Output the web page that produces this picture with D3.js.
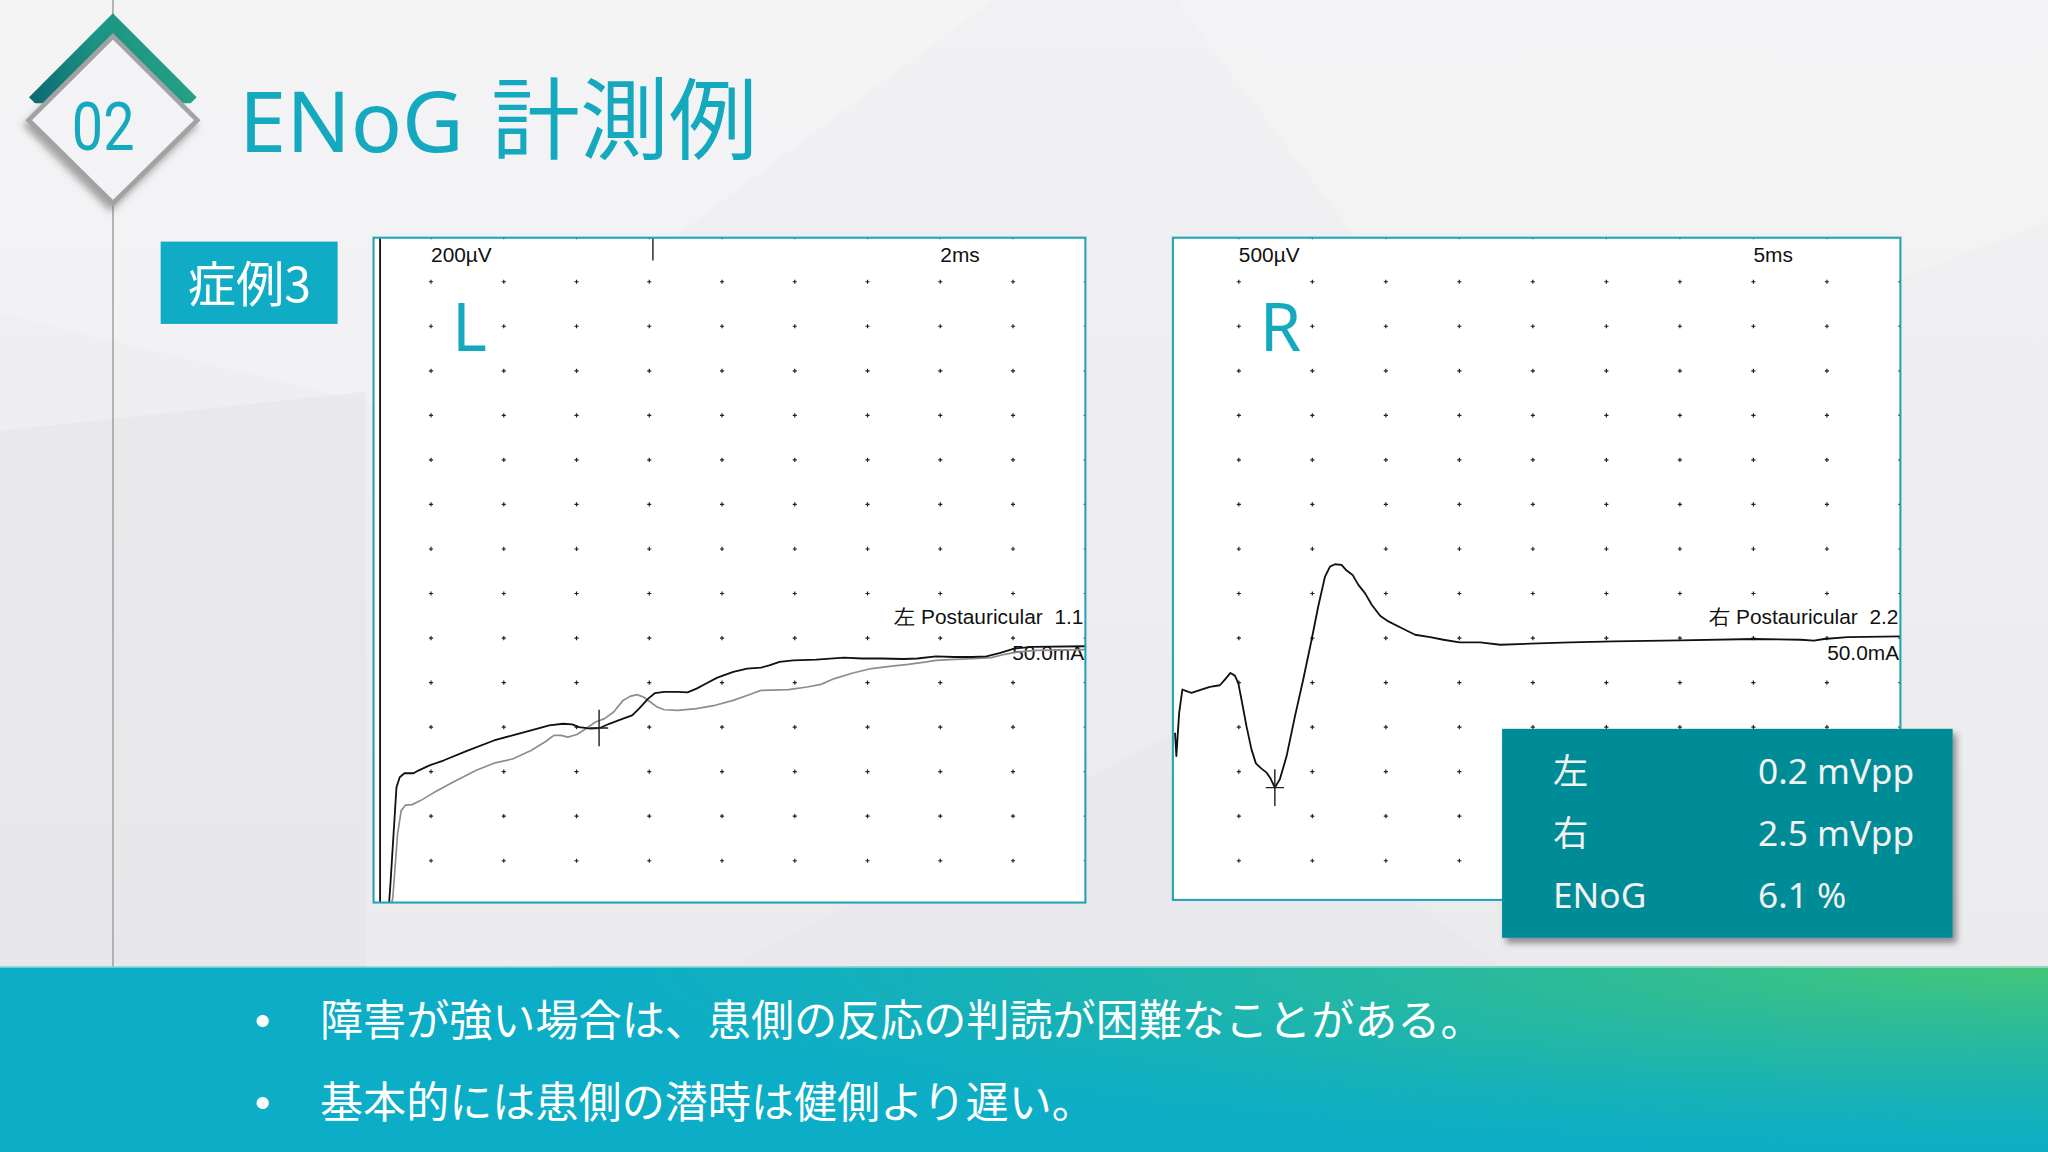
<!DOCTYPE html>
<html>
<head>
<meta charset="utf-8">
<title>ENoG 計測例</title>
<script src="https://d3js.org/d3.v7.min.js"></script>
<style>
  html, body { margin: 0; padding: 0; background: #ededf0; overflow: hidden; }
  svg { display: block; }
</style>
</head>
<body>
<div id="slide"></div>
<script>
"use strict";

// ---- data ----
// left side (患側), 2ms/div, 200uV/div : [ms, uV]
var leftTraceA = [
  [0.60, 2400], [0.60, -1200], [0.76, -1200], [0.89, -890], [1.05, -470], [1.14, -425],
  [1.27, -407], [1.52, -407], [1.65, -395], [1.96, -372], [2.34, -350], [2.97, -308],
  [3.73, -260], [4.24, -237], [4.75, -215], [5.25, -192], [5.63, -185], [5.88, -188],
  [6.07, -200], [6.39, -207], [6.64, -204], [6.90, -185], [7.28, -162], [7.53, -147],
  [7.72, -117], [7.97, -72], [8.16, -47], [8.41, -42], [8.79, -42], [9.05, -44],
  [9.30, -27], [9.55, -5], [9.87, 22], [10.31, 48], [10.69, 63], [11.07, 67],
  [11.32, 78], [11.58, 93], [11.96, 100], [12.59, 103], [13.35, 112], [13.85, 108],
  [14.36, 108], [14.99, 106], [15.37, 108], [15.88, 118], [16.38, 115], [16.89, 115],
  [17.27, 118], [17.65, 133], [18.03, 153], [18.53, 160], [20.00, 163]
];
var leftTraceB = [
  [0.70, -1200], [0.95, -965], [1.08, -680], [1.18, -575], [1.30, -550], [1.48, -548],
  [1.71, -530], [2.09, -493], [2.60, -448], [3.23, -395], [3.73, -362], [4.24, -343],
  [4.75, -305], [5.13, -267], [5.38, -237], [5.57, -237], [5.76, -245], [6.01, -233],
  [6.26, -207], [6.52, -177], [6.77, -162], [7.02, -132], [7.28, -80], [7.47, -62],
  [7.66, -54], [7.84, -65], [8.03, -87], [8.22, -110], [8.41, -122], [8.79, -125],
  [9.30, -117], [9.81, -102], [10.31, -80], [10.82, -50], [11.07, -35], [11.83, -32],
  [12.34, -20], [12.72, -8], [13.09, 18], [13.60, 43], [14.11, 63], [14.61, 73],
  [15.12, 82], [15.62, 93], [15.88, 100], [16.26, 103], [16.89, 108], [17.40, 112],
  [17.78, 127], [18.15, 138], [18.66, 145], [20.00, 148]
];
var leftCursor = [6.62, -204];
var leftMarker = 8.1;

// right side (健側), 5ms/div, 500uV/div : [ms, uV]
var rightTrace = [
  [0.66, -563], [0.75, -825], [0.94, -340], [1.16, -78], [1.44, -97], [1.78, -116],
  [2.34, -86], [3.03, -49], [3.71, -30], [4.05, 34], [4.43, 108], [4.73, 78],
  [4.96, -4], [5.18, -190], [5.52, -489], [5.86, -750], [6.16, -907], [6.54, -966],
  [6.89, -1011], [7.16, -1078], [7.45, -1179], [7.79, -1086], [8.25, -825], [8.82, -377],
  [9.38, 34], [9.95, 481], [10.40, 854], [10.86, 1190], [11.20, 1302], [11.54, 1328],
  [11.99, 1321], [12.33, 1257], [12.74, 1209], [13.13, 1097], [13.58, 1004], [14.04, 873],
  [14.61, 750], [15.17, 687], [16.20, 601], [16.99, 537], [18.01, 511], [18.92, 481],
  [20.01, 451], [21.42, 451], [22.78, 425], [24.82, 437], [27.55, 451], [30.50, 463],
  [35.04, 474], [40.04, 489], [43.22, 481], [44.12, 470], [44.81, 489], [46.40, 511],
  [50.00, 519]
];
var rightCursor = [7.45, -1179];

// grid (dot) positions
var leftTimeGrid = [2, 4, 6, 8, 10, 12, 14, 16, 18, 20];
var leftAmpGrid = [2000, 1800, 1600, 1400, 1200, 1000, 800, 600, 400, 200, 0, -200, -400, -600, -800, -1000];
var rightTimeGrid = [5, 10, 15, 20, 25, 30, 35, 40, 45, 50];
var rightAmpGrid = [5000, 4500, 4000, 3500, 3000, 2500, 2000, 1500, 1000, 500, 0, -500, -1000, -1500, -2000, -2500];

// labels
var leftLabels = ["L", "200µV", "2ms", "左 Postauricular  1.1", "50.0mA"];
var rightLabels = ["R", "500µV", "5ms", "右 Postauricular  2.2", "50.0mA"];
var resultNames = ["左", "右", "ENoG"];
var resultValues = ["0.2 mVpp", "2.5 mVpp", "6.1 %"];
var notes = [
  "障害が強い場合は、患側の反応の判読が困難なことがある。",
  "基本的には患側の潜時は健側より遅い。"
];

(function() {
  var W, H, svg, defs, g, grad, title, drawPanel;
  var TEAL = "#15a9bf";
  var MONO = "'Liberation Sans', Arial, sans-serif";
  var SANS = "'Noto Sans', 'Noto Sans CJK JP', sans-serif";
  var CJK = "'Noto Sans CJK JP', 'Noto Sans', sans-serif";

  W = 1568; H = 882;
  svg = d3.select("#slide").append("svg")
    .attr("width", 2048)
    .attr("height", 1152)
    .attr("viewBox", "0 0 " + W + " " + H);
  defs = svg.append("defs");

  // ---- defs ----
  grad = defs.append("linearGradient").attr("id", "bg").attr("x1", 0).attr("y1", 0).attr("x2", 0).attr("y2", 1);
  grad.append("stop").attr("offset", "0%").attr("stop-color", "#f1f1f3");
  grad.append("stop").attr("offset", "100%").attr("stop-color", "#eaeaed");

  grad = defs.append("linearGradient").attr("id", "roof").attr("gradientUnits", "userSpaceOnUse")
    .attr("x1", 22).attr("y1", 74).attr("x2", 150).attr("y2", 40);
  grad.append("stop").attr("offset", "0%").attr("stop-color", "#0b6a72");
  grad.append("stop").attr("offset", "45%").attr("stop-color", "#1a9484");
  grad.append("stop").attr("offset", "100%").attr("stop-color", "#25a286");

  grad = defs.append("radialGradient").attr("id", "bandGlow").attr("gradientUnits", "userSpaceOnUse")
    .attr("cx", 0).attr("cy", 0).attr("r", 1)
    .attr("gradientTransform", "translate(1568,738) scale(1150,150)");
  grad.append("stop").attr("offset", "0%").attr("stop-color", "#46c777").attr("stop-opacity", 1);
  grad.append("stop").attr("offset", "55%").attr("stop-color", "#2cbb98").attr("stop-opacity", 0.6);
  grad.append("stop").attr("offset", "100%").attr("stop-color", "#20b5ad").attr("stop-opacity", 0);

  defs.append("filter").attr("id", "shadow").attr("x", "-20%").attr("y", "-20%").attr("width", "150%").attr("height", "150%")
    .append("feDropShadow").attr("dx", 3).attr("dy", 4).attr("stdDeviation", 2.5)
    .attr("flood-color", "#000").attr("flood-opacity", 0.4);
  defs.append("filter").attr("id", "dshadow").attr("x", "-30%").attr("y", "-30%").attr("width", "160%").attr("height", "160%")
    .append("feDropShadow").attr("dx", -2).attr("dy", 4).attr("stdDeviation", 3)
    .attr("flood-color", "#555").attr("flood-opacity", 0.5);

  // ---- background ----
  svg.append("rect").attr("width", W).attr("height", H).attr("fill", "url(#bg)");
  svg.append("polygon").attr("points", "0,0 760,0 330,320 0,240").attr("fill", "#fff").attr("opacity", 0.22);
  svg.append("polygon").attr("points", "900,0 1568,0 1568,170 1150,330").attr("fill", "#fff").attr("opacity", 0.2);
  svg.append("polygon").attr("points", "0,330 280,300 280,740 0,740").attr("fill", "#e4e4e8").attr("opacity", 0.5);
  svg.append("polygon").attr("points", "560,740 900,560 1150,740").attr("fill", "#e6e6ea").attr("opacity", 0.4);

  // timeline line
  svg.append("line").attr("x1", 86.5).attr("x2", 86.5).attr("y1", 0).attr("y2", 740)
    .attr("stroke", "#9d9d9d").attr("stroke-width", 1.1);

  // ---- number badge ----
  defs.append("clipPath").attr("id", "roofClip").append("rect")
    .attr("x", 0).attr("y", 0).attr("width", 200).attr("height", 79);
  svg.append("polygon").attr("clip-path", "url(#roofClip)")
    .attr("points", "86.4,10.2 150.6,74.4 86.4,138.6 22.2,74.4")
    .attr("fill", "url(#roof)");
  svg.append("polygon")
    .attr("points", "86.5,27.8 151,92 86.5,155.5 22,92")
    .attr("fill", "#f3f3f5").attr("stroke", "#a2a2a4").attr("stroke-width", 3.6)
    .attr("filter", "url(#dshadow)");
  svg.append("text").attr("x", 79).attr("y", 115).attr("text-anchor", "middle")
    .attr("font-family", "Roboto, 'Noto Sans', sans-serif").attr("font-size", 51)
    .attr("textLength", 48).attr("lengthAdjust", "spacingAndGlyphs")
    .attr("fill", TEAL).text("02");

  // ---- title ----
  title = svg.append("text").attr("x", 183).attr("y", 116)
    .attr("font-family", SANS).attr("fill", TEAL);
  title.append("tspan").attr("font-size", 65).text("ENoG ");
  title.append("tspan").attr("font-family", CJK).attr("font-size", 68).attr("dx", 4).text("計測例");

  // case label
  svg.append("rect").attr("x", 123).attr("y", 185).attr("width", 135.5).attr("height", 63).attr("fill", "#10abc4");
  svg.append("text").attr("x", 191).attr("y", 231).attr("text-anchor", "middle")
    .attr("font-family", CJK).attr("font-size", 37).attr("fill", "#fff").text("症例3");

  // ---- panels ----
  drawPanel = function(cfg) {
    var p, x, y, line, id, box, dots, tg;
    box = cfg.box;
    x = cfg.x; y = cfg.y;
    id = "clip" + cfg.name;
    p = svg.append("g").attr("class", "panel-" + cfg.name);

    defs.append("clipPath").attr("id", id).append("rect")
      .attr("x", box.x).attr("y", box.y).attr("width", box.w).attr("height", box.h);

    p.append("rect").attr("x", box.x).attr("y", box.y).attr("width", box.w).attr("height", box.h)
      .attr("fill", "#fff");

    // dot grid
    dots = [];
    cfg.timeGrid.forEach(function(t) {
      cfg.ampGrid.forEach(function(v) { dots.push([t, v]); });
    });
    p.append("g").attr("clip-path", "url(#" + id + ")")
      .selectAll("path.dot")
      .data(dots)
      .enter()
      .append("path")
      .attr("class", "dot")
      .attr("d", function(d) {
        var cx = x(d[0]), cy = y(d[1]);
        return "M" + (cx - 1.6) + "," + cy + "h3.2M" + cx + "," + (cy - 1.6) + "v3.2";
      })
      .attr("stroke", "#222").attr("stroke-width", 0.9);

    // labels
    p.append("text").attr("x", x(cfg.timeGrid[0]) + 16).attr("y", 269)
      .attr("font-family", "'Noto Sans', sans-serif").attr("font-size", 51).attr("fill", TEAL)
      .text(cfg.labels[0]);
    p.append("text").attr("x", x(cfg.timeGrid[0])).attr("y", 200.5)
      .attr("font-family", MONO).attr("font-size", 16).attr("fill", "#111").text(cfg.labels[1]);
    p.append("text").attr("x", x(cfg.timeGrid[7])).attr("y", 200.5)
      .attr("font-family", MONO).attr("font-size", 16).attr("fill", "#111").text(cfg.labels[2]);
    p.append("text").attr("x", box.x + box.w - 1.5).attr("y", 477.5).attr("text-anchor", "end")
      .attr("font-family", MONO).attr("font-size", 16).attr("fill", "#111")
      .style("white-space", "pre").text(cfg.labels[3]);
    p.append("text").attr("x", box.x + box.w - 1).attr("y", 505.5).attr("text-anchor", "end")
      .attr("font-family", MONO).attr("font-size", 16).attr("fill", "#111").text(cfg.labels[4]);

    // traces
    line = d3.line()
      .x(function(d) { return x(d[0]); })
      .y(function(d) { return y(d[1]); });
    tg = p.append("g").attr("clip-path", "url(#" + id + ")");
    cfg.traces.forEach(function(tr) {
      tg.append("path").datum(tr.data)
        .attr("d", line)
        .attr("fill", "none")
        .attr("stroke", tr.color)
        .attr("stroke-width", tr.width)
        .attr("stroke-linejoin", "round");
    });

    // cursor
    tg.append("path")
      .attr("d", "M" + (x(cfg.cursor[0]) - 7) + "," + y(cfg.cursor[1]) + "h14" +
                 "M" + x(cfg.cursor[0]) + "," + (y(cfg.cursor[1]) - 14) + "v28")
      .attr("stroke", "#222").attr("stroke-width", 1.1).attr("fill", "none");

    if (cfg.marker !== undefined) {
      tg.append("line")
        .attr("x1", x(cfg.marker)).attr("x2", x(cfg.marker))
        .attr("y1", box.y).attr("y2", box.y + 17.5)
        .attr("stroke", "#222").attr("stroke-width", 1.1);
    }

    // border
    p.append("rect").attr("x", box.x).attr("y", box.y).attr("width", box.w).attr("height", box.h)
      .attr("fill", "none").attr("stroke", "#25a3b5").attr("stroke-width", 1.6);
  };

  drawPanel({
    name: "L",
    box: {x: 286, y: 182, w: 545, h: 509},
    x: d3.scaleLinear().domain([0, 20]).range([274.3, 831.3]),
    y: d3.scaleLinear().domain([-1000, 2000]).range([693.1, 181.6]),
    timeGrid: leftTimeGrid,
    ampGrid: leftAmpGrid,
    labels: leftLabels,
    traces: [
      {data: leftTraceB, color: "#8d8d8d", width: 1.3},
      {data: leftTraceA, color: "#111", width: 1.4}
    ],
    cursor: leftCursor,
    marker: leftMarker
  });

  drawPanel({
    name: "R",
    box: {x: 898, y: 182, w: 557, h: 507},
    x: d3.scaleLinear().domain([0, 50]).range([892.2, 1455]),
    y: d3.scaleLinear().domain([-2500, 5000]).range([693.1, 181.6]),
    timeGrid: rightTimeGrid,
    ampGrid: rightAmpGrid,
    labels: rightLabels,
    traces: [
      {data: rightTrace, color: "#111", width: 1.4}
    ],
    cursor: rightCursor
  });

  // ---- result box ----
  g = svg.append("g");
  g.append("rect").attr("x", 1150).attr("y", 558).attr("width", 345).attr("height", 160)
    .attr("fill", "#038c97").attr("filter", "url(#shadow)");
  g.selectAll("text.name")
    .data(resultNames)
    .enter()
    .append("text")
    .attr("class", "name")
    .attr("x", 1189)
    .attr("y", function(d, i) { return 600 + i * 47.7; })
    .attr("font-family", SANS).attr("font-size", 27).attr("fill", "#f2f2f2")
    .text(function(d) { return d; });
  g.selectAll("text.val")
    .data(resultValues)
    .enter()
    .append("text")
    .attr("class", "val")
    .attr("x", 1346)
    .attr("y", function(d, i) { return 600 + i * 47.7; })
    .attr("font-family", SANS).attr("font-size", 27).attr("fill", "#f2f2f2")
    .text(function(d) { return d; });

  // ---- bottom band ----
  svg.append("rect").attr("x", 0).attr("y", 740).attr("width", W).attr("height", H - 740).attr("fill", "#0cadc6");
  svg.append("rect").attr("x", 0).attr("y", 740).attr("width", W).attr("height", H - 740).attr("fill", "url(#bandGlow)");
  svg.append("line").attr("x1", 0).attr("x2", W).attr("y1", 740.5).attr("y2", 740.5)
    .attr("stroke", "#d8f4f2").attr("stroke-width", 1).attr("opacity", 0.6);

  g = svg.append("g");
  g.selectAll("text.bullet")
    .data(notes)
    .enter()
    .append("text")
    .attr("class", "bullet")
    .attr("x", 201)
    .attr("y", function(d, i) { return 793 + i * 63; })
    .attr("text-anchor", "middle")
    .attr("font-family", MONO).attr("font-size", 34).attr("fill", "#fff")
    .text("•");
  g.selectAll("text.note")
    .data(notes)
    .enter()
    .append("text")
    .attr("class", "note")
    .attr("x", 245)
    .attr("y", function(d, i) { return 793 + i * 63; })
    .attr("font-family", CJK).attr("font-size", 33).attr("fill", "#fff")
    .text(function(d) { return d; });
})();
</script>
</body>
</html>
